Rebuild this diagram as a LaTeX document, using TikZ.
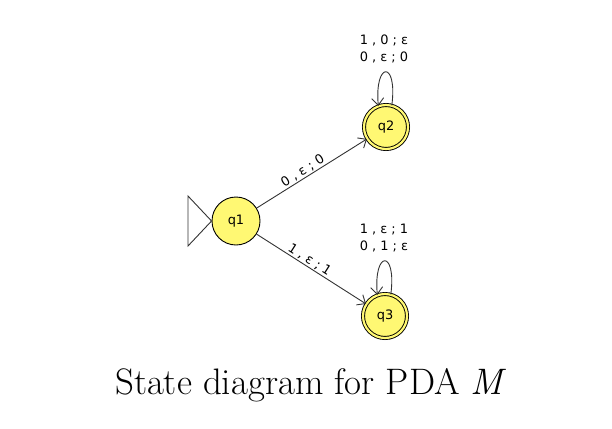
\documentclass[tikz,border=0pt]{standalone}
\usepackage{fontspec}
\newfontfamily\lab{DejaVu Sans}
\usetikzlibrary{arrows.meta}
\begin{document}
\begin{tikzpicture}[x=1bp,y=-1bp,line width=0.9bp,
  st/.style={circle,draw=black,fill=yellow!55,minimum size=48bp,inner sep=0pt,font=\lab\fontsize{13}{15}\selectfont},
  acc/.style={st,double=yellow!55,double distance=2.2bp,minimum size=44bp},
  lb/.style={font=\lab\fontsize{13}{17}\selectfont,align=center,inner sep=1bp},
  ed/.style={draw=black!80,-{Straight Barb[length=7bp,width=12bp]}}]
\useasboundingbox (0,0) rectangle (612,428);
\node[st] (q1) at (236,221) {q1};
\node[acc] (q2) at (386,127) {q2};
\node[acc] (q3) at (385,316) {q3};
\coordinate (t1) at (188,196);
\coordinate (t2) at (188,246);
\draw[black!80] (t1) -- (q1.west) -- (t2) -- cycle;
\draw[ed] (q1) -- node[lb,sloped,above,pos=0.45] {0 , ε ; 0} (q2);
\draw[ed] (q1) -- node[lb,sloped,above,pos=0.45] {1 , ε ; 1} (q3);
\draw[ed] (q2.75) .. controls +(6,-45) and +(-4,-45) .. (q2.110);
\draw[ed] (q3.75) .. controls +(6,-45) and +(-4,-45) .. (q3.110);
\node[lb] (l2) at (384,49) {1 , 0 ; ε\\0 , ε ; 0};
\node[lb] (l3) at (384,238) {1 , ε ; 1\\0 , 1 ; ε};
\node[font=\fontsize{37}{40}\selectfont] (cap) at (311,385) {State diagram for PDA \textit{M}};
\end{tikzpicture}
\end{document}
